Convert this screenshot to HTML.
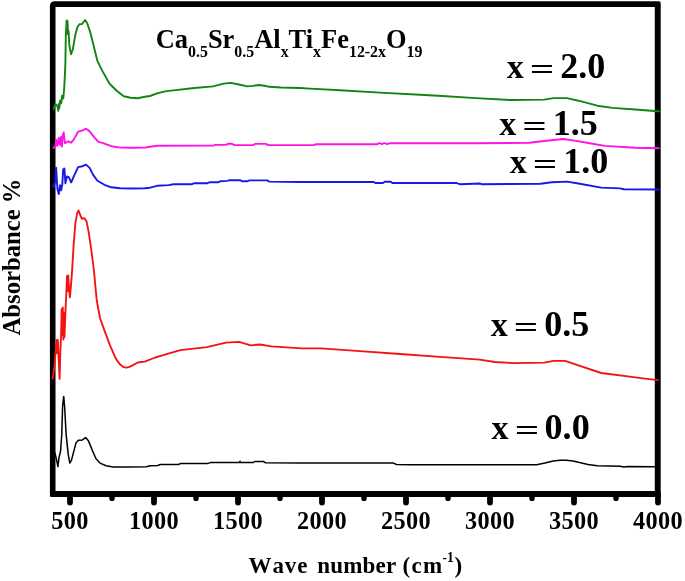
<!DOCTYPE html>
<html><head><meta charset="utf-8"><title>FTIR</title>
<style>
html,body{margin:0;padding:0;background:#fff;}
svg{display:block;}
.t{font-family:"Liberation Serif",serif;font-weight:bold;fill:#000;}
.c{fill:none;stroke-width:1.9;stroke-linejoin:round;stroke-linecap:round;}
</style></head><body>
<svg width="685" height="581" viewBox="0 0 685 581">
<rect width="685" height="581" fill="#fff"/>
<path fill-rule="evenodd" fill="#000" d="M49.9,495.4 V6.3 Q49.9,1.3 54.9,1.3 H658.7 Q660.7,1.3 660.7,3.3 V496.9 H51.4 Q49.9,496.9 49.9,495.4 Z M55.5,7.1 V491.1 H654.8 V7.1 Z"/>
<polyline class="c" stroke="#128412" points="53.6,109.0 55.5,104.2 57.2,105.5 58.3,110.8 59.0,104.0 59.4,108.0 60.2,100.4 61.2,103.3 62.1,95.7 63.3,98.5 64.2,88.0 64.9,75.0 65.4,62.6 65.8,36.3 66.6,20.5 67.0,34.0 67.5,21.0 68.0,32.0 68.6,31.0 69.3,45.0 71.0,54.2 72.8,49.5 75.4,34.6 77.6,26.5 79.5,24.3 82.0,24.0 85.1,20.0 87.2,23.2 90.4,32.8 93.9,46.8 97.4,60.9 102.6,71.4 109.6,83.7 116.7,90.7 123.7,96.3 130.7,97.7 137.7,98.2 144.7,96.8 150.0,96.0 157.0,93.4 165.0,91.4 173.4,90.4 194.4,88.0 213.2,86.4 223.7,83.6 230.7,82.9 238.9,84.5 247.1,86.4 252.9,85.9 258.8,85.0 264.6,85.7 269.3,86.8 281.0,87.5 299.7,88.0 310.0,88.6 340.0,90.3 380.0,92.6 420.0,94.8 438.0,95.8 475.9,98.1 510.0,100.0 544.2,99.6 553.7,98.1 567.0,98.1 578.4,100.7 597.3,105.7 612.5,107.9 635.3,109.5 654.3,111.0 659.0,111.3"/>
<polyline class="c" stroke="#ff14e6" points="53.5,148.0 55.3,146.6 56.1,139.6 57.4,145.7 58.8,137.8 60.0,144.8 61.1,136.9 61.9,146.6 62.8,135.2 63.7,132.5 64.9,143.1 66.7,142.2 68.4,141.3 71.1,142.7 73.7,139.6 78.1,131.7 82.5,130.4 86.0,128.7 89.5,131.1 93.9,136.9 98.2,141.7 104.4,143.6 111.4,146.2 120.2,147.6 132.5,147.8 144.7,147.6 150.0,146.7 157.0,145.8 213.2,145.6 215.5,144.9 226.0,144.9 228.4,143.7 231.9,143.7 234.2,145.1 252.9,145.1 255.3,143.9 265.8,143.9 268.1,145.1 314.0,145.1 316.0,144.2 377.2,144.2 379.5,143.0 381.9,144.2 384.2,143.0 387.0,144.2 390.0,143.2 460.0,143.2 475.9,143.2 529.0,142.8 544.2,141.0 563.2,139.0 574.6,140.6 589.8,143.2 605.0,145.9 635.3,147.8 659.0,148.2"/>
<polyline class="c" stroke="#1818e8" points="53.5,186.9 55.3,181.7 56.1,167.6 57.4,188.7 58.8,194.0 60.0,185.2 61.1,190.4 62.3,184.3 63.2,169.4 64.4,168.5 65.4,183.4 67.0,176.4 68.9,177.3 71.1,182.5 74.6,174.6 78.1,167.1 82.5,166.2 86.0,164.6 89.5,167.6 93.0,174.6 97.4,180.8 104.4,184.8 111.4,187.3 120.2,188.3 132.5,188.5 144.7,188.3 150.0,187.7 157.0,185.8 168.7,185.1 173.4,184.2 192.1,184.2 194.4,183.2 207.3,183.2 209.6,182.3 217.8,182.3 220.2,181.3 227.2,180.9 229.5,180.2 240.0,180.2 242.4,181.3 247.1,181.3 249.4,180.4 267.0,180.4 269.3,181.6 300.0,182.0 373.7,182.0 375.3,183.0 383.0,183.0 384.7,181.8 390.8,181.8 392.4,183.0 456.7,183.0 458.0,183.6 460.7,184.2 479.7,183.5 481.6,184.2 540.4,183.8 551.8,182.3 567.0,181.6 578.4,183.5 601.2,187.6 620.1,188.4 623.9,189.2 659.0,189.5"/>
<polyline class="c" style="stroke-width:1.85" stroke="#f41212" points="52.6,378.9 54.5,366.0 56.5,340.0 57.2,353.0 57.9,340.0 58.6,358.0 59.6,378.9 60.4,350.0 61.0,338.0 61.7,309.0 62.2,335.0 62.8,307.5 63.4,339.5 64.0,313.0 64.5,337.0 65.4,312.8 66.2,296.0 67.0,276.0 67.6,291.0 68.2,275.5 69.0,287.7 69.9,297.4 71.1,284.2 71.9,273.7 73.7,243.9 75.4,222.8 77.2,213.2 78.6,210.5 80.2,214.9 81.9,218.9 84.2,218.1 86.5,221.1 88.6,231.6 91.2,249.1 93.9,270.2 96.5,298.2 97.4,304.0 100.0,318.0 104.4,330.4 109.6,344.4 114.9,356.7 117.5,361.2 120.2,364.6 123.0,366.8 126.3,367.7 129.5,366.8 132.5,365.4 137.7,362.5 144.7,361.6 155.3,357.5 162.3,355.3 170.0,353.2 180.4,350.2 206.9,347.2 225.9,342.6 239.2,341.9 250.6,345.3 260.0,344.5 271.4,346.4 301.8,348.3 321.0,348.4 360.0,351.2 400.0,354.0 440.0,356.9 479.7,359.7 494.9,362.0 513.9,363.1 544.2,362.7 553.7,360.8 565.1,360.8 578.4,365.4 601.2,373.0 627.7,376.4 642.9,378.3 658.0,380.2"/>
<polyline class="c" style="stroke-width:1.5" stroke="#000" points="53.5,450.0 55.3,454.3 56.7,460.4 57.9,466.6 59.1,456.9 60.5,451.7 61.8,434.1 62.6,406.0 63.7,396.4 64.7,407.8 66.1,434.1 68.1,453.4 69.8,463.1 71.4,460.4 73.7,451.7 76.0,442.9 78.4,440.3 82.5,439.9 85.6,437.6 88.6,441.1 92.1,449.9 96.0,458.7 100.0,463.1 106.1,465.7 113.2,466.9 128.9,466.9 146.5,466.8 150.0,465.7 157.7,465.5 160.3,464.5 178.4,464.5 181.0,463.4 208.0,463.4 210.6,462.6 239.4,462.6 240.0,461.2 240.6,462.6 253.2,462.6 254.7,461.5 263.5,461.5 265.6,462.8 301.8,463.1 393.5,463.1 396.5,464.5 410.0,464.7 536.6,464.7 545.0,463.0 553.2,461.1 560.0,460.3 566.4,460.2 573.0,461.0 579.5,462.6 588.0,464.4 597.3,465.7 620.1,466.3 623.9,467.1 627.7,466.5 655.0,466.7"/>
<line x1="70.0" y1="494" x2="70.0" y2="502.6" stroke="#000" stroke-width="5.8" stroke-linecap="round"/>
<text x="70.0" y="528.5" text-anchor="middle" class="t" font-size="24.3" letter-spacing="0.4">500</text>
<line x1="154.0" y1="494" x2="154.0" y2="502.6" stroke="#000" stroke-width="5.8" stroke-linecap="round"/>
<text x="154.0" y="528.5" text-anchor="middle" class="t" font-size="24.3" letter-spacing="0.4">1000</text>
<line x1="238.0" y1="494" x2="238.0" y2="502.6" stroke="#000" stroke-width="5.8" stroke-linecap="round"/>
<text x="238.0" y="528.5" text-anchor="middle" class="t" font-size="24.3" letter-spacing="0.4">1500</text>
<line x1="322.0" y1="494" x2="322.0" y2="502.6" stroke="#000" stroke-width="5.8" stroke-linecap="round"/>
<text x="322.0" y="528.5" text-anchor="middle" class="t" font-size="24.3" letter-spacing="0.4">2000</text>
<line x1="406.0" y1="494" x2="406.0" y2="502.6" stroke="#000" stroke-width="5.8" stroke-linecap="round"/>
<text x="406.0" y="528.5" text-anchor="middle" class="t" font-size="24.3" letter-spacing="0.4">2500</text>
<line x1="490.0" y1="494" x2="490.0" y2="502.6" stroke="#000" stroke-width="5.8" stroke-linecap="round"/>
<text x="490.0" y="528.5" text-anchor="middle" class="t" font-size="24.3" letter-spacing="0.4">3000</text>
<line x1="574.0" y1="494" x2="574.0" y2="502.6" stroke="#000" stroke-width="5.8" stroke-linecap="round"/>
<text x="574.0" y="528.5" text-anchor="middle" class="t" font-size="24.3" letter-spacing="0.4">3500</text>
<line x1="658.0" y1="494" x2="658.0" y2="502.6" stroke="#000" stroke-width="5.8" stroke-linecap="round"/>
<text x="658.0" y="528.5" text-anchor="middle" class="t" font-size="24.3" letter-spacing="0.4">4000</text>
<line x1="112.0" y1="494" x2="112.0" y2="498.4" stroke="#000" stroke-width="5.4" stroke-linecap="round"/>
<line x1="196.0" y1="494" x2="196.0" y2="498.4" stroke="#000" stroke-width="5.4" stroke-linecap="round"/>
<line x1="280.0" y1="494" x2="280.0" y2="498.4" stroke="#000" stroke-width="5.4" stroke-linecap="round"/>
<line x1="364.0" y1="494" x2="364.0" y2="498.4" stroke="#000" stroke-width="5.4" stroke-linecap="round"/>
<line x1="448.0" y1="494" x2="448.0" y2="498.4" stroke="#000" stroke-width="5.4" stroke-linecap="round"/>
<line x1="532.0" y1="494" x2="532.0" y2="498.4" stroke="#000" stroke-width="5.4" stroke-linecap="round"/>
<line x1="616.0" y1="494" x2="616.0" y2="498.4" stroke="#000" stroke-width="5.4" stroke-linecap="round"/>

<text x="155.7" y="47.7" class="t" font-size="26.45">Ca<tspan font-size="15.9" dy="9.4">0.5</tspan><tspan dy="-9.4">Sr</tspan><tspan font-size="15.9" dy="9.4">0.5</tspan><tspan dy="-9.4">Al</tspan><tspan font-size="15.9" dy="9.4">x</tspan><tspan dy="-9.4">Ti</tspan><tspan font-size="15.9" dy="9.4">x</tspan><tspan dy="-9.4">Fe</tspan><tspan font-size="15.9" dy="9.4">12-2x</tspan><tspan dy="-9.4">O</tspan><tspan font-size="15.9" dy="9.4">19</tspan></text>
<text x="506.7" y="78.0" class="t" font-size="34">x <tspan x="529.7" dy="1" font-size="30" textLength="24.6" lengthAdjust="spacingAndGlyphs">=</tspan> <tspan x="560.3" dy="-1" font-size="35" textLength="45.06" lengthAdjust="spacingAndGlyphs">2.0</tspan></text>
<text x="499.2" y="134.5" class="t" font-size="34">x <tspan x="522.2" dy="1" font-size="30" textLength="24.6" lengthAdjust="spacingAndGlyphs">=</tspan> <tspan x="552.8" dy="-1" font-size="35" textLength="45.06" lengthAdjust="spacingAndGlyphs">1.5</tspan></text>
<text x="509.7" y="172.7" class="t" font-size="34">x <tspan x="532.7" dy="1" font-size="30" textLength="24.6" lengthAdjust="spacingAndGlyphs">=</tspan> <tspan x="563.3" dy="-1" font-size="35" textLength="45.06" lengthAdjust="spacingAndGlyphs">1.0</tspan></text>
<text x="490.7" y="336.3" class="t" font-size="34">x <tspan x="513.7" dy="1" font-size="30" textLength="24.6" lengthAdjust="spacingAndGlyphs">=</tspan> <tspan x="544.3" dy="-1" font-size="35" textLength="45.06" lengthAdjust="spacingAndGlyphs">0.5</tspan></text>
<text x="491.5" y="438.8" class="t" font-size="34">x <tspan x="514.8" dy="1" font-size="30" textLength="24.6" lengthAdjust="spacingAndGlyphs">=</tspan> <tspan x="544.6" dy="-1" font-size="35" textLength="45.06" lengthAdjust="spacingAndGlyphs">0.0</tspan></text>
<text transform="translate(19.6,257.0) rotate(-90)" text-anchor="middle" class="t" font-size="24.7" style="font-kerning:none">Absorbance %</text>
<text x="248.5" y="573" class="t" font-size="23" style="font-kerning:none">W<tspan x="272.4" letter-spacing="0.95">ave</tspan> <tspan x="317.3" letter-spacing="0.18">number</tspan> <tspan x="402.6" letter-spacing="1.3">(cm</tspan><tspan x="442.6" dy="-11.3" font-size="13.6">-1</tspan><tspan x="454.5" dy="11.3">)</tspan></text>
</svg>
</body></html>
